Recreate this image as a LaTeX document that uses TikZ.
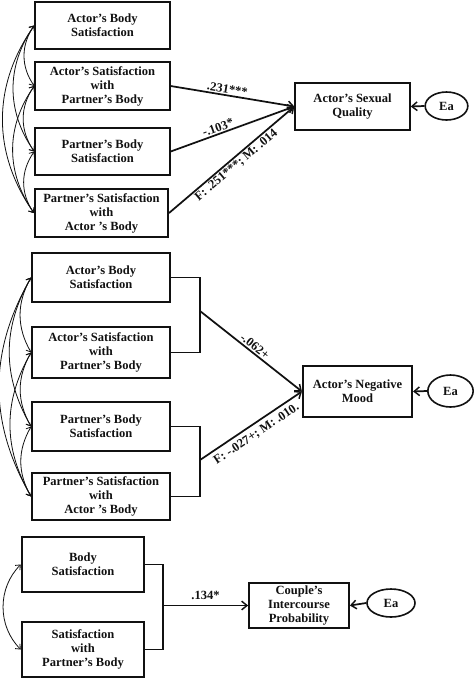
\documentclass[tikz,border=0pt]{standalone}
\usepackage{fontspec}
\setmainfont{Liberation Serif}
\usetikzlibrary{arrows.meta,shapes.geometric}
\definecolor{semInk}{HTML}{111111}
\tikzset{
  sem font/.style={font=\fontsize{9.4}{10.5}\selectfont\bfseries, text=semInk},
  sem box/.style={sem font, draw=semInk, line width=1.3pt, align=center, inner sep=1pt},
  sem err/.style={sem font, ellipse, draw=semInk, line width=1.2pt, inner sep=0pt},
  sem line/.style={draw=semInk, line width=1.3pt},
  sem path/.style={sem line, -{Straight Barb[length=4pt,width=6.5pt,line width=1.1pt]}},
  sem cov/.style={draw=semInk, line width=0.6pt, {Straight Barb[length=3pt,width=5pt]}-{Straight Barb[length=3pt,width=5pt]}},
  sem label/.style={sem font, inner sep=1pt},
}
\begin{document}
\begin{tikzpicture}[x=0.75pt,y=-0.75pt]
  \useasboundingbox (0,0) rectangle (474,679);
  % model 1: sexual quality
  \node[sem box, minimum width=101pt, minimum height=35.5pt] (a1) at (102.5,25.5) {Actor's Body\\Satisfaction};
  \node[sem box, minimum width=101pt, minimum height=36pt] (a2) at (102.5,86) {Actor's Satisfaction\\with\\Partner's Body};
  \node[sem box, minimum width=101pt, minimum height=35.5pt] (a3) at (102.5,151.5) {Partner's Body\\Satisfaction};
  \node[sem box, minimum width=100pt, minimum height=36pt] (a4) at (101.5,213) {Partner's Satisfaction\\with\\Actor 's Body};
  \node[sem box, minimum width=86pt, minimum height=35pt] (t1) at (352.5,106.5) {Actor's Sexual\\Quality};
  \node[sem err, minimum width=32pt, minimum height=21pt] (e1) at (446.5,106) {Ea};
  \foreach \a/\b in {a1/a2,a1/a3,a1/a4,a2/a3,a2/a4,a3/a4}{\draw[sem cov] (\a.west) to[bend right=35] (\b.west);}
  \draw[sem path] (a2.east) -- node[sem label, sloped, above, pos=0.45] {.231***} (t1.west);
  \draw[sem path] (a3.east) -- node[sem label, sloped, above, pos=0.4] {-.103*} (t1.west);
  \draw[sem path] (a4.east) -- node[sem label, sloped, below, pos=0.5] {F: .251***; M: .014} (t1.west);
  \draw[sem path] (e1.west) -- (t1.east);
  % model 2: negative mood
  \node[sem box, minimum width=103.5pt, minimum height=36.5pt] (b1) at (101,277.5) {Actor's Body\\Satisfaction};
  \node[sem box, minimum width=103.5pt, minimum height=38pt] (b2) at (101,352.5) {Actor's Satisfaction\\with\\Partner's Body};
  \node[sem box, minimum width=103.5pt, minimum height=36.5pt] (b3) at (101,426.5) {Partner's Body\\Satisfaction};
  \node[sem box, minimum width=103.5pt, minimum height=35.5pt] (b4) at (101,496.5) {Partner's Satisfaction\\with\\Actor 's Body};
  \node[sem box, minimum width=82pt, minimum height=38pt] (t2) at (357.5,391.5) {Actor's Negative\\Mood};
  \node[sem err, minimum width=34pt, minimum height=24pt] (e2) at (450.5,391) {Ea};
  \foreach \a/\b in {b1/b2,b1/b3,b1/b4,b2/b3,b2/b4,b3/b4}{\draw[sem cov] (\a.west) to[bend right=30] (\b.west);}
  \coordinate (jA) at (200,311);
  \coordinate (jB) at (200,460);
  \draw[sem line] (b1.east) -| (jA) |- (b2.east);
  \draw[sem line] (b3.east) -| (jB) |- (b4.east);
  \draw[sem path] (jA) -- node[sem label, sloped, above, pos=0.5] {-.062+} (t2.west);
  \draw[sem path] (jB) -- node[sem label, sloped, below, pos=0.5, yshift=-2pt] {F: -.027+; M: .010.} (t2.west);
  \draw[sem path] (e2.west) -- (t2.east);
  % model 3: intercourse probability
  \node[sem box, minimum width=92pt, minimum height=41pt] (c1) at (83,564.5) {Body\\Satisfaction};
  \node[sem box, minimum width=92pt, minimum height=41pt] (c2) at (83,649.5) {Satisfaction\\with\\Partner's Body};
  \node[sem box, minimum width=75pt, minimum height=34pt] (t3) at (299,605.5) {Couple's\\Intercourse\\Probability};
  \node[sem err, minimum width=36pt, minimum height=21pt] (e3) at (391,603) {Ea};
  \draw[sem cov] (c1.west) to[bend right=45] (c2.west);
  \coordinate (jC) at (163,605.5);
  \draw[sem line] (c1.east) -| (jC) |- (c2.east);
  \draw[sem path] (jC) -- node[sem label, above, yshift=3pt] {.134*} (t3.west);
  \draw[sem path] (e3.west) -- (t3.east);
\end{tikzpicture}
\end{document}
